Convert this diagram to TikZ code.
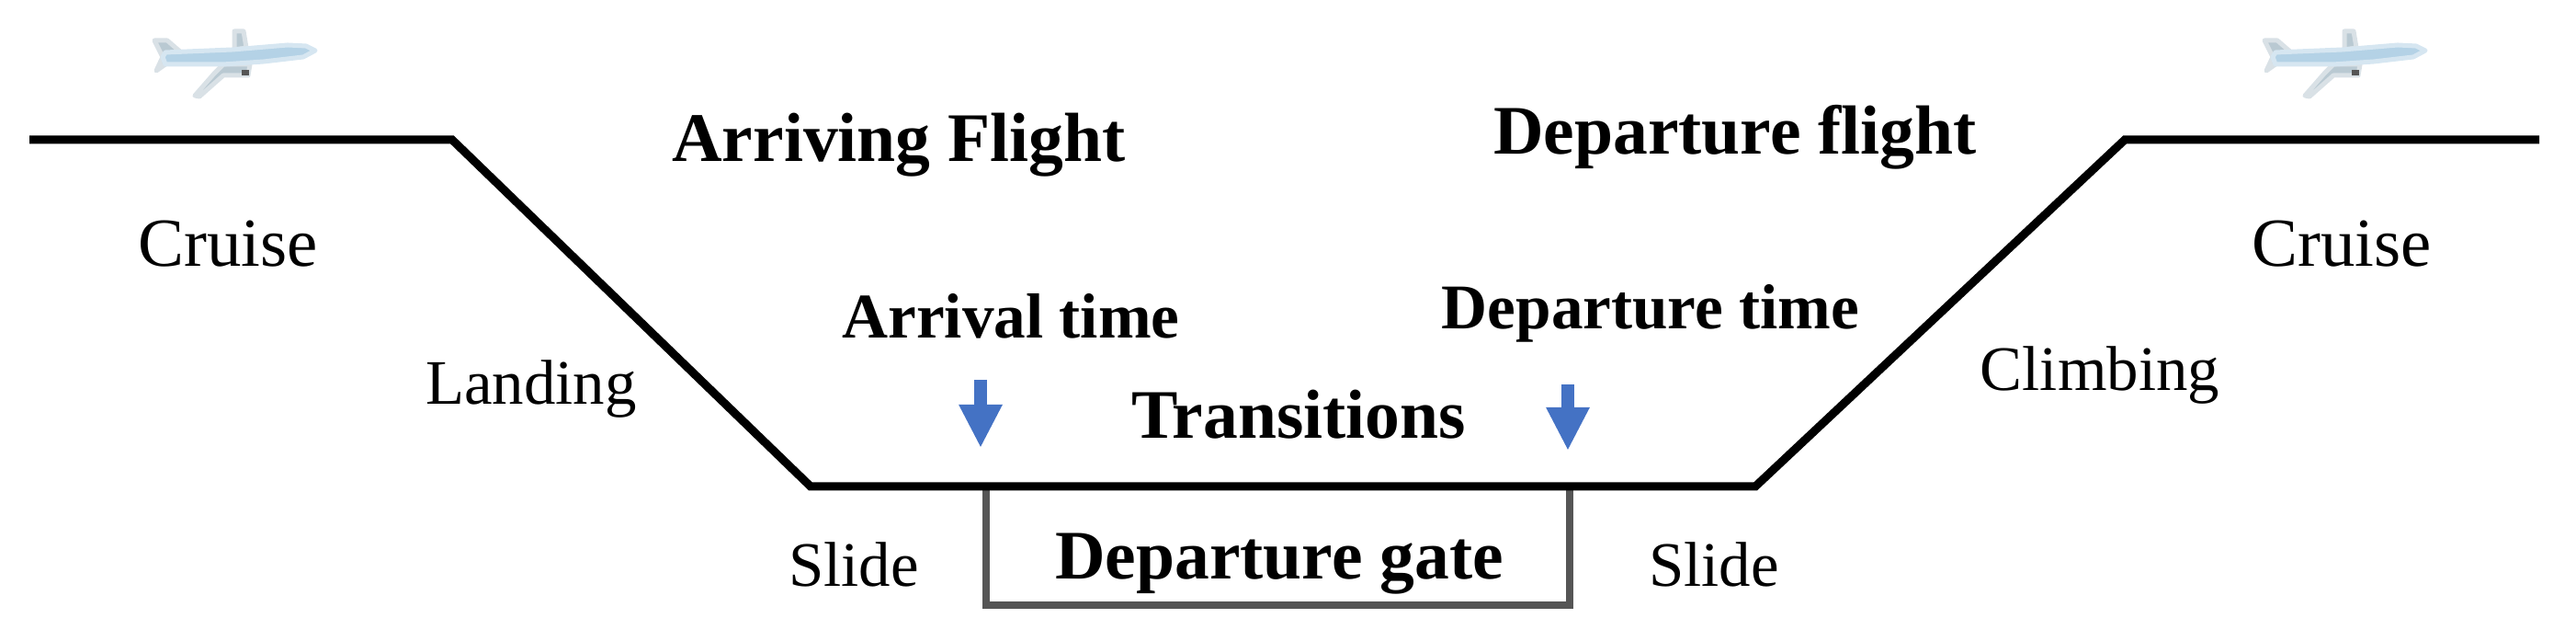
\documentclass[tikz,border=0pt]{standalone}
\usepackage{fontspec}
\setmainfont{Liberation Serif}
\usepackage{xcolor}
\usepackage{tikz}
\usetikzlibrary{arrows.meta}
\definecolor{arrowblue}{HTML}{4472C4}
\definecolor{gategray}{HTML}{555555}
\definecolor{planebody}{HTML}{B4D2E6}
\definecolor{planewing}{HTML}{B9C9D2}
\tikzstyle{phase} = [anchor = base, inner sep = 0pt, font = \fontsize{19.6pt}{23pt}\selectfont]
\tikzstyle{bigphase} = [anchor = base, inner sep = 0pt, font = \fontsize{21.3pt}{25pt}\selectfont]
\tikzstyle{title} = [anchor = base, inner sep = 0pt, font = \fontsize{21.5pt}{25pt}\selectfont\bfseries]
\tikzstyle{event} = [anchor = base, inner sep = 0pt, font = \fontsize{19.7pt}{23pt}\selectfont\bfseries]
\tikzstyle{profile} = [line width = 0.09cm, black, line join = miter]
\tikzstyle{gate} = [line width = 0.08cm, gategray]
\tikzstyle{timearrow} = [line width = 0.14cm, arrowblue, -{Triangle[width = 0.44cm, length = 0.47cm]}]
\tikzset{plane/.pic = {
\begin{scope}[x = 0.1mm, y = 0.1mm, line width = 0.05cm, line join = round]
\filldraw[planewing, draw = planewing!55] (-87,18) -- (-73,18) -- (-58,5) -- (-75,-8) -- (-85,-15) -- (-78,0) -- cycle;
\filldraw[planewing, draw = planewing!55] (0,28) -- (10,28) -- (13,10) -- (0,8) -- cycle;
\filldraw[planewing, draw = planewing!55] (-43,-42) -- (-38,-43) -- (-12,-20) -- (15,-20) -- (17,-8) -- (-12,-8) -- (-22,-18) -- cycle;
\filldraw[planebody, draw = planebody!55] (-75,5) -- (-2,8) -- (58,13) -- (78,12) -- (88,7) -- (75,0) -- (32,-5) -- (-12,-8) -- (-75,-8) -- (-78,0) -- cycle;
\fill[gategray] (8,-20) rectangle (16,-14);
\end{scope}
}}

\begin{document}
\begin{tikzpicture}

\useasboundingbox (0,0) rectangle (28.03,6.97);

\pic at (2.55,6.35) {plane};
\pic at (25.51,6.35) {plane};

\coordinate (leftend) at (0.32,5.45);
\coordinate (descent) at (4.92,5.45);
\coordinate (leftground) at (8.82,1.68);
\coordinate (rightground) at (19.10,1.68);
\coordinate (ascent) at (23.12,5.45);
\coordinate (rightend) at (27.63,5.45);
\coordinate (gatetopleft) at (10.73,1.68);
\coordinate (gatebottomleft) at (10.73,0.39);
\coordinate (gatebottomright) at (17.08,0.39);
\coordinate (gatetopright) at (17.08,1.68);

\draw [gate] (gatetopleft) -- (gatebottomleft) -- (gatebottomright) -- (gatetopright);
\draw [profile] (leftend) -- (descent) -- (leftground) -- (rightground) -- (ascent) -- (rightend);

\node(cruiseleft) [bigphase] at (2.48,4.07) {Cruise};
\node(cruiseright) [bigphase] at (25.48,4.07) {Cruise};
\node(landing) [phase] at (5.78,2.57) {Landing};
\node(climbing) [phase] at (22.85,2.72) {Climbing};
\node(slideleft) [phase] at (9.29,0.59) {Slide};
\node(slideright) [phase] at (18.65,0.59) {Slide};

\node(arriving) [title] at (9.78,5.21) {Arriving Flight};
\node(departing) [title] at (18.88,5.29) {Departure flight};
\node(transitions) [title] at (14.13,2.20) {Transitions};
\node(gatelabel) [title] at (13.92,0.67) {Departure gate};
\node(arrivaltime) [event] at (11.00,3.29) {Arrival time};
\node(departuretime) [event] at (17.96,3.39) {Departure time};

\coordinate (arrivaltop) at (10.67,2.84);
\coordinate (arrivaltip) at (10.67,2.10);
\coordinate (departuretop) at (17.06,2.79);
\coordinate (departuretip) at (17.06,2.07);

\draw [timearrow] (arrivaltop) -- (arrivaltip);
\draw [timearrow] (departuretop) -- (departuretip);

\end{tikzpicture}
\end{document}
